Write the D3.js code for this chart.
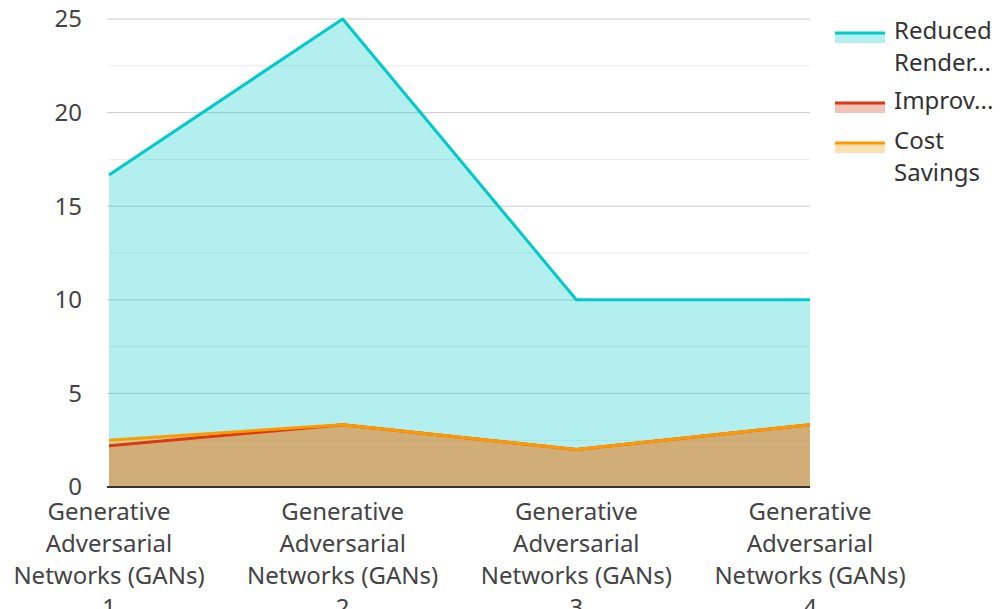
<!DOCTYPE html>
<html><head><meta charset="utf-8">
<script src="https://cdn.jsdelivr.net/npm/d3@7"></script>
<style>
body{margin:0;background:#fff;}
text{font-family:"Noto Sans",sans-serif;}
</style></head>
<body><svg id="c" width="1000" height="609"></svg>
<script>
const categories = ["Generative Adversarial Networks (GANs) 1","Generative Adversarial Networks (GANs) 2","Generative Adversarial Networks (GANs) 3","Generative Adversarial Networks (GANs) 4"];
const seriesNames = ["Reduced Render...","Improv...","Cost Savings"];
const reducedRender = [16.67, 25, 10, 10];
const improv = [2.2, 3.33, 2.0, 3.33];
const costSavings = [2.5, 3.33, 2.0, 3.33];
const yTicks = [0,5,10,15,20,25];
const colors = ["#00cbc8","#dc3912","#ff9900"];
const series = [reducedRender, improv, costSavings];

const svg = d3.select("#c");
const m = {l:109, r:810, t:19, b:487};
const x = d3.scalePoint().domain(d3.range(categories.length)).range([m.l, m.r]);
const y = d3.scaleLinear().domain([0,25]).range([m.b, m.t]);

const minor = d3.range(2.5, 25, 5);
svg.append("g").selectAll("line").data(minor).join("line")
  .attr("x1", m.l).attr("x2", m.r).attr("y1", d=>y(d)).attr("y2", d=>y(d))
  .attr("stroke","#ebebeb").attr("stroke-width",1);
svg.append("g").selectAll("line").data(yTicks.slice(1)).join("line")
  .attr("x1", m.l-2).attr("x2", m.r).attr("y1", d=>y(d)).attr("y2", d=>y(d))
  .attr("stroke","#cccccc").attr("stroke-width",1);

svg.append("g").selectAll("text").data(yTicks).join("text")
  .attr("x", 82).attr("y", d=>y(d)).attr("dy","0.35em").attr("text-anchor","end")
  .attr("font-size",24).attr("fill","#444").text(d=>d);

const area = d3.area().x((d,i)=>x(i)).y0(y(0)).y1(d=>y(d));
const line = d3.line().x((d,i)=>x(i)).y(d=>y(d));
series.forEach((s,k)=>{
  svg.append("path").attr("d", area(s)).attr("fill", colors[k]).attr("fill-opacity",0.3);
});
series.forEach((s,k)=>{
  svg.append("path").attr("d", line(s)).attr("fill","none").attr("stroke", colors[k]).attr("stroke-width",3).attr("stroke-linejoin","round");
});

svg.append("line").attr("x1", m.l-2).attr("x2", m.r).attr("y1", y(0)).attr("y2", y(0))
  .attr("stroke","#333").attr("stroke-width",2);

const xl = svg.append("g");
categories.forEach((c,i)=>{
  const lines = ["Generative","Adversarial","Networks (GANs)", String(i+1)];
  const t = xl.append("text").attr("text-anchor","middle").attr("font-size",24).attr("fill","#444");
  lines.forEach((ln,j)=>{
    t.append("tspan").attr("x", x(i)).attr("y", 520 + j*32).text(ln);
  });
});

const leg = [["Reduced","Render..."],["Improv..."],["Cost","Savings"]];
const legY = [33, 103, 143];
leg.forEach((lines,k)=>{
  const g = svg.append("g");
  g.append("rect").attr("x",835).attr("y",legY[k]).attr("width",50).attr("height",10)
    .attr("fill",colors[k]).attr("fill-opacity",0.3);
  g.append("line").attr("x1",835).attr("x2",885).attr("y1",legY[k]).attr("y2",legY[k])
    .attr("stroke",colors[k]).attr("stroke-width",3);
  lines.forEach((ln,j)=>{
    g.append("text").attr("x",894).attr("y",legY[k]-2+j*32).attr("dy","0.35em")
      .attr("font-size",24).attr("fill","#333").text(ln);
  });
});
</script></body></html>
